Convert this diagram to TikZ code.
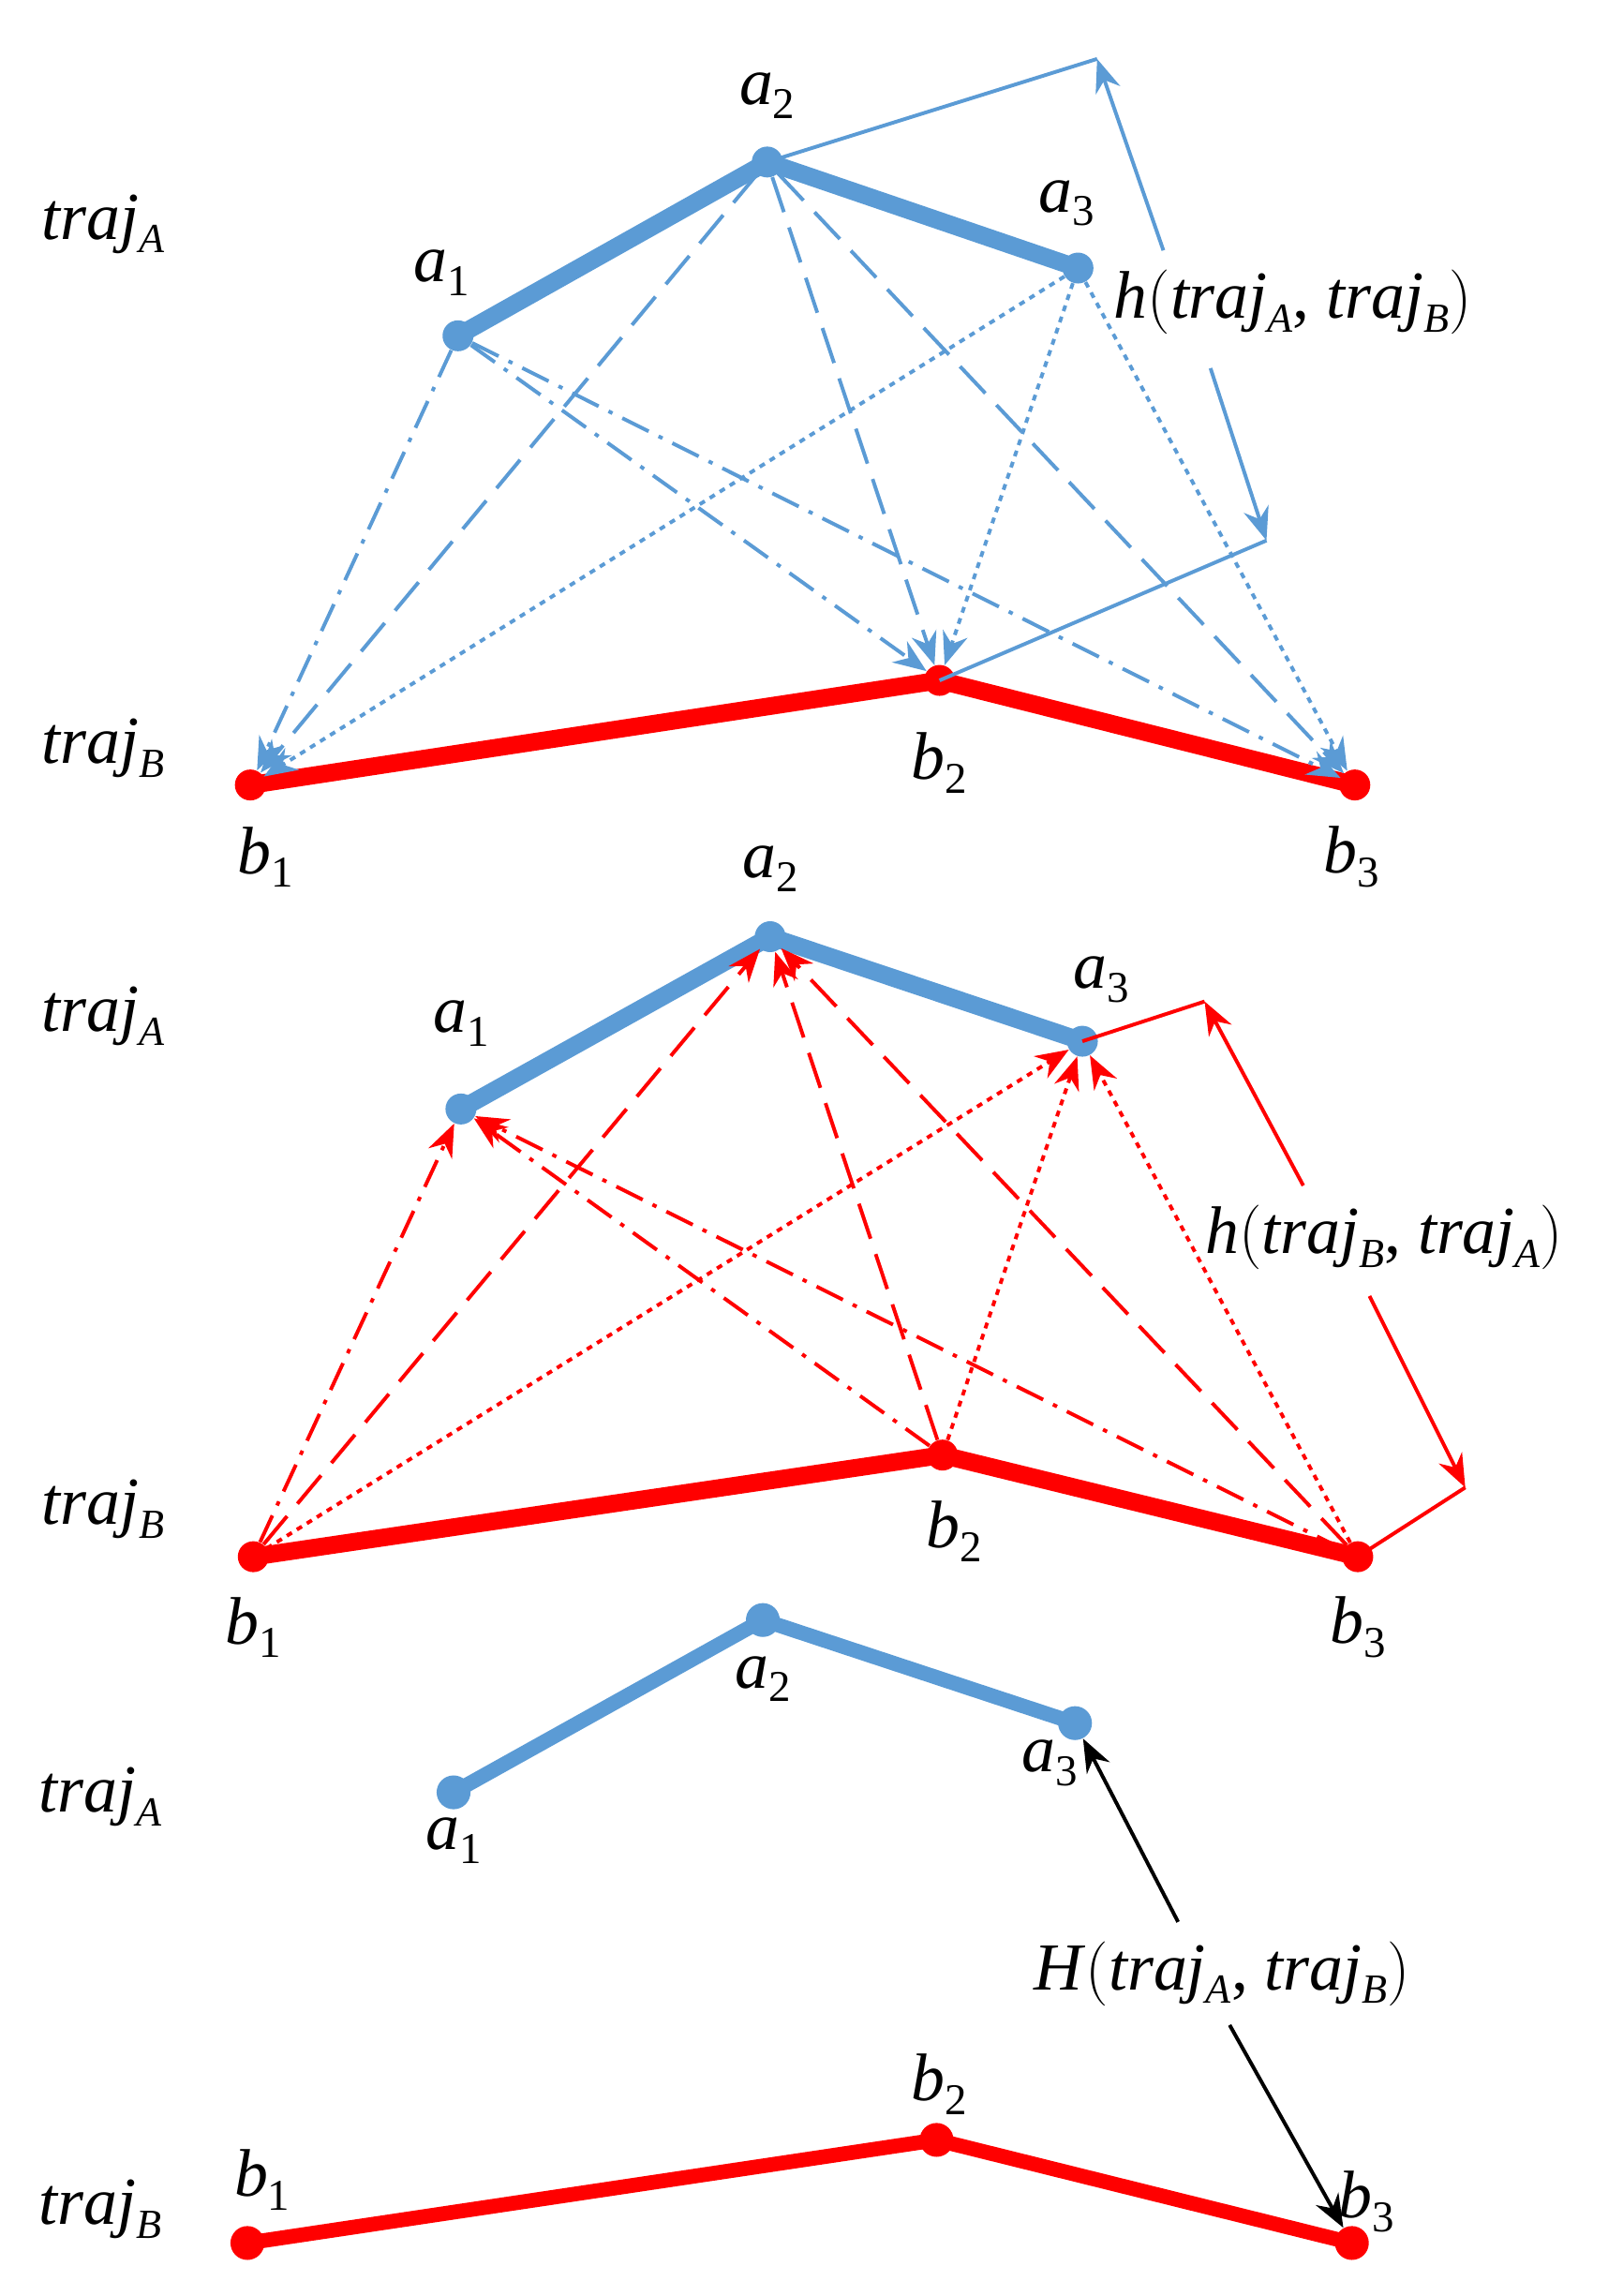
\documentclass[tikz,border=0pt]{standalone}
\usepackage{fontspec}
\setmainfont{Liberation Serif}
\usetikzlibrary{arrows.meta}
\definecolor{bl}{RGB}{91,155,213}
\definecolor{rd}{RGB}{255,0,0}
\newcommand{\tj}[1]{\textit{traj}\raisebox{-0.45ex}{\fontsize{16}{16}\selectfont\textit{#1}}}
\newcommand{\pt}[2]{\textit{#1}\raisebox{-0.45ex}{\fontsize{17}{17}\selectfont #2}}
\tikzset{
 lbl/.style={font=\fontsize{26}{30}\selectfont},
 dot/.style={circle,fill=#1,inner sep=0pt,minimum size=0.42cm},
 thk/.style={line width=2.4mm},
 arr/.style={line width=0.5mm,-{Stealth[length=4.5mm,width=3.5mm]}},
 dsh/.style={dash pattern=on 5mm off 2.2mm},
 ddt/.style={dash pattern=on 4mm off 1.5mm on 0.6mm off 1.5mm},
 dtd/.style={dash pattern=on 0.8mm off 0.8mm},
}
\begin{document}
\begin{tikzpicture}[x=0.02cm,y=-0.02cm]
\useasboundingbox (0,0) rectangle (1102,1559);
% ---------- top panel
\node[dot=bl] (ta1) at (311,228) {};
\node[dot=bl] (ta2) at (521,110) {};
\node[dot=bl] (ta3) at (732,182) {};
\node[dot=rd] (tb1) at (170,533) {};
\node[dot=rd] (tb2) at (638,462) {};
\node[dot=rd] (tb3) at (920,533) {};
\draw[bl,thk] (ta1.center)--(ta2.center)--(ta3.center);
\draw[rd,thk] (tb1.center)--(tb2.center)--(tb3.center);
\begin{scope}[bl,arr]
\foreach \b in {tb1,tb2,tb3}{
 \draw[dsh] (ta2) -- (\b);
 \draw[ddt] (ta1) -- (\b);
 \draw[dtd] (ta3) -- (\b);}
\end{scope}
\coordinate (th1) at (745,40);
\coordinate (th2) at (860,367);
\draw[bl,line width=0.5mm] (ta2.center)--(th1) (th2)--(tb2.center);
\node[lbl] (thl) at (878,205) {\textit{h}$\big($\tj{A}, \tj{B}$\big)$};
\draw[bl,arr] (790,170) -- (th1);
\draw[bl,arr] (822,250) -- (th2);
\node[lbl] at (70,152) {\tj{A}};
\node[lbl] at (70,508) {\tj{B}};
\node[lbl] at (521,65) {\pt{a}{2}};
\node[lbl] at (300,185) {\pt{a}{1}};
\node[lbl] at (724,138) {\pt{a}{3}};
\node[lbl] at (180,582) {\pt{b}{1}};
\node[lbl] at (638,518) {\pt{b}{2}};
\node[lbl] at (918,582) {\pt{b}{3}};
% ---------- middle panel
\node[dot=bl] (ma1) at (313,753) {};
\node[dot=bl] (ma2) at (523,636) {};
\node[dot=bl] (ma3) at (735,707) {};
\node[dot=rd] (mb1) at (172,1057) {};
\node[dot=rd] (mb2) at (640,988) {};
\node[dot=rd] (mb3) at (922,1057) {};
\draw[bl,thk] (ma1.center)--(ma2.center)--(ma3.center);
\draw[rd,thk] (mb1.center)--(mb2.center)--(mb3.center);
\begin{scope}[rd,line width=0.5mm,-{Stealth[length=4.5mm,width=3.5mm]}]
\foreach \b in {mb1,mb2,mb3}{
 \draw[dsh] (\b) -- (ma2);
 \draw[ddt] (\b) -- (ma1);
 \draw[dtd] (\b) -- (ma3);}
\end{scope}
\coordinate (mh1) at (818,680);
\coordinate (mh2) at (995,1010);
\draw[rd,line width=0.5mm] (ma3.center)--(mh1) (mh2)--(mb3.center);
\node[lbl] (mhl) at (940,840) {\textit{h}$\big($\tj{B}, \tj{A}$\big)$};
\draw[rd,arr] (885,805) -- (mh1);
\draw[rd,arr] (930,880) -- (mh2);
\node[lbl] at (70,690) {\tj{A}};
\node[lbl] at (70,1025) {\tj{B}};
\node[lbl] at (523,590) {\pt{a}{2}};
\node[lbl] at (313,695) {\pt{a}{1}};
\node[lbl] at (748,665) {\pt{a}{3}};
\node[lbl] at (172,1105) {\pt{b}{1}};
\node[lbl] at (648,1040) {\pt{b}{2}};
\node[lbl] at (922,1105) {\pt{b}{3}};
% ---------- bottom panel
\node[dot=bl,minimum size=0.46cm] (ba1) at (308,1217) {};
\node[dot=bl,minimum size=0.46cm] (ba2) at (518,1100) {};
\node[dot=bl,minimum size=0.46cm] (ba3) at (730,1170) {};
\node[dot=rd,minimum size=0.46cm] (bb1) at (168,1523) {};
\node[dot=rd,minimum size=0.46cm] (bb2) at (636,1453) {};
\node[dot=rd,minimum size=0.46cm] (bb3) at (918,1523) {};
\draw[bl,line width=2mm] (ba1.center)--(ba2.center)--(ba3.center);
\draw[rd,line width=2mm] (bb1.center)--(bb2.center)--(bb3.center);
\node[lbl] (Hl) at (830,1340) {\textit{H}$\big($\tj{A}, \tj{B}$\big)$};
\draw[black,arr] (800,1305) -- (ba3);
\draw[black,arr] (835,1375) -- (bb3);
\node[lbl] at (68,1220) {\tj{A}};
\node[lbl] at (68,1500) {\tj{B}};
\node[lbl] at (308,1250) {\pt{a}{1}};
\node[lbl] at (518,1140) {\pt{a}{2}};
\node[lbl] at (713,1197) {\pt{a}{3}};
\node[lbl] at (178,1480) {\pt{b}{1}};
\node[lbl] at (638,1415) {\pt{b}{2}};
\node[lbl] at (928,1495) {\pt{b}{3}};
\end{tikzpicture}
\end{document}
